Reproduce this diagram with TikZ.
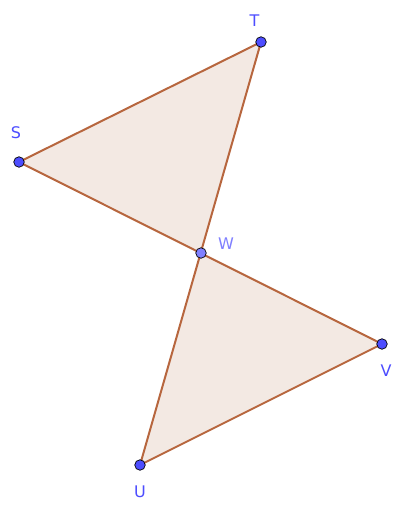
\documentclass[tikz,border=0pt]{standalone}
\usepackage{fontspec}
\setmainfont{DejaVu Sans}
\definecolor{edge}{RGB}{183,102,62}
\definecolor{fillc}{RGB}{243,233,227}
\definecolor{pt}{RGB}{77,77,255}
\definecolor{ptw}{RGB}{128,128,255}
\tikzset{
  pnt/.style={circle,draw=black,line width=0.7pt,fill=pt,inner sep=0pt,minimum size=10.5pt},
  pntw/.style={pnt,fill=ptw},
  lbl/.style={text=pt,font=\fontsize{16}{18}\selectfont},
  lblw/.style={text=ptw,font=\fontsize{16}{18}\selectfont},
  side/.style={draw=edge,line width=2pt}
}
\begin{document}
\begin{tikzpicture}[x=1pt,y=-1pt]
\useasboundingbox (0,0) rectangle (402,522);
\coordinate (T) at (261,42);
\coordinate (S) at (19,162);
\coordinate (W) at (201,253);
\coordinate (V) at (382,344);
\coordinate (U) at (140,465);
\fill[fillc] (T) -- (S) -- (W) -- cycle;
\fill[fillc] (W) -- (V) -- (U) -- cycle;
\draw[side] (T) -- (S) -- (V) -- (U) -- cycle;
\node[pnt] (pT) at (T) {};
\node[pnt] (pS) at (S) {};
\node[pntw] (pW) at (W) {};
\node[pnt] (pV) at (V) {};
\node[pnt] (pU) at (U) {};
\node[lbl] (lT) at (254.5,21) {T};
\node[lbl] (lS) at (16,133) {S};
\node[lblw] (lW) at (226,244) {W};
\node[lbl] (lV) at (386,371) {V};
\node[lbl] (lU) at (140,492) {U};
\end{tikzpicture}
\end{document}
